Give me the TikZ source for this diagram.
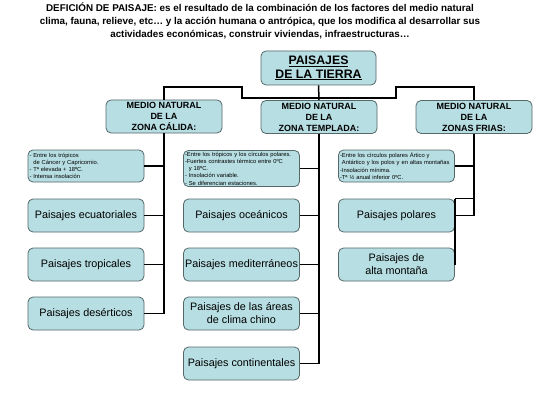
\documentclass[tikz,border=0pt]{standalone}
\usepackage{fontspec}
\setmainfont{Liberation Sans}
\definecolor{boxblue}{HTML}{B7DEE2}
\definecolor{boxedge}{HTML}{55696B}
\usetikzlibrary{positioning, calc}
\tikzset{
	basenode/.style={
			rectangle,
			rounded corners=5pt,
			draw=boxedge,
			fill=boxblue,
			line width=0.8pt,
			inner sep=1pt,
			align=center
		},
	rootnode/.style={
			basenode,
			minimum width=115pt,
			minimum height=34pt,
			font=\bfseries\fontsize{12.3}{13.5}\selectfont
		},
	zonenode/.style={
			basenode,
			minimum width=116pt,
			minimum height=33pt,
			font=\bfseries\fontsize{9}{11}\selectfont
		},
	infonode/.style={
			basenode,
			text width=113pt,
			align=left,
			inner sep=1.5pt,
			minimum height=32pt,
			font=\fontsize{5.8}{7.2}\selectfont
		},
	paisajenode/.style={
			basenode,
			minimum width=116pt,
			minimum height=33pt,
			font=\fontsize{10.8}{13}\selectfont
		},
	linkline/.style={
			draw=black,
			line width=1.5pt
		}
}

\begin{document}
\begin{tikzpicture}[x=1pt, y=-1pt]
				\useasboundingbox[fill=white] (0,0) rectangle (560,420);

				\node[font=\bfseries\fontsize{9.85}{13.3}\selectfont, align=center] (title) at (260, 21)
					{DEFICIÓN DE PAISAJE: es el resultado de la combinación de los factores del medio natural\\
					clima, fauna, relieve, etc\ldots{} y la acción humana o antrópica, que los modifica al desarrollar sus\\
					actividades económicas, construir viviendas, infraestructuras\ldots};

				\node[rootnode] (root) at (318.5, 68) {\underline{PAISAJES}\\\underline{DE LA TIERRA}};

				\node[zonenode] (zcal) at (164, 116.5) {MEDIO NATURAL\\DE LA\\ZONA CÁLIDA:};
				\node[zonenode] (ztem) at (319, 117) {MEDIO NATURAL\\DE LA\\ZONA TEMPLADA:};
				\node[zonenode] (zfri) at (474, 117) {MEDIO NATURAL\\DE LA\\ZONAS FRIAS:};

				\node[infonode] (ical) at (86, 166) {- Entre los trópicos\\\ \ de Cáncer y Capricornio.\\- Tª elevada + 18ºC.\\- Intensa insolación};
				\node[infonode] (item) at (241.5, 168.5) {-Entre los trópicos y los círculos polares.\\-Fuertes contrastes térmico entre 0ºC\\\ \ y 18ºC.\\- Insolación variable.\\- Se diferencian estaciones.};
				\node[infonode] (ifri) at (396.5, 166) {-Entre los círculos polares Ártico y\\\ Antártico y los polos y en altas montañas\\-Insolación mínima.\\-Tª ½ anual inferior 0ºC.};

				\node[paisajenode] (pecu) at (86, 215.5) {Paisajes ecuatoriales};
				\node[paisajenode] (ptro) at (86, 264.5) {Paisajes tropicales};
				\node[paisajenode] (pdes) at (86, 313.5) {Paisajes desérticos};

				\node[paisajenode] (poce) at (241.5, 215.5) {Paisajes oceánicos};
				\node[paisajenode] (pmed) at (241.5, 264.5) {Paisajes mediterráneos};
				\node[paisajenode] (pchi) at (241.5, 313.5) {Paisajes de las áreas\\de clima chino};
				\node[paisajenode] (pcon) at (241.5, 363.5) {Paisajes continentales};

				\node[paisajenode] (ppol) at (396.5, 215.5) {Paisajes polares};
				\node[paisajenode] (palt) at (396.5, 264.5) {Paisajes de\\alta montaña};

				% root to the three zones
				\coordinate (s1) at (242, 87);
				\coordinate (s2) at (396, 98);
				\coordinate (s3) at (474, 87);
				\draw[linkline] (root) -- (ztem);
				\draw[linkline] (zcal.north) |- (s1) |- (s2) |- (s3) -- (zfri.north);

				% zona calida
				\draw[linkline] (zcal.south) |- (pdes.east);
				\foreach \n in {ical, pecu, ptro}
					\draw[linkline] (\n.east) -- (\n.east -| zcal.south);

				% zona templada
				\draw[linkline] (ztem.south) |- (pcon.east);
				\foreach \n in {item, poce, pmed, pchi}
					\draw[linkline] (\n.east) -- (\n.east -| ztem.south);

				% zonas frias
				\draw[linkline] (zfri.south) |- (ppol.east);
				\draw[linkline] (ifri.east) -- (ifri.east -| zfri.south);
				\draw[linkline] (ppol.north east) -- (ppol.north east -| zfri.south);
				\draw[linkline] (ppol.north east) -- (palt.east);
			\end{tikzpicture}
\end{document}
